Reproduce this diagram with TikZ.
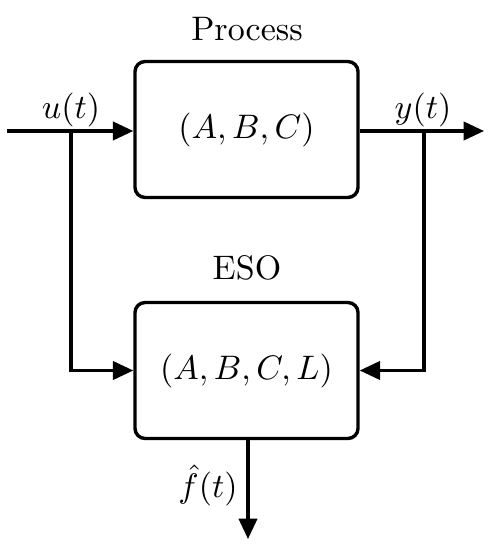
\documentclass[tikz,border=0pt]{standalone}
\usetikzlibrary{arrows.meta}
\begin{document}
\begin{tikzpicture}[x=0.2941pt,y=-0.2941pt,
  blk/.style={draw,line width=1pt,rounded corners=3pt,minimum width=65.6pt,minimum height=40pt,inner sep=0pt},
  conn/.style={line width=0.9pt},
  arr/.style={conn,-{Triangle[length=6pt,width=5.4pt]}},
  lbl/.style={inner sep=0pt}]
\useasboundingbox (0,0) rectangle (490,550);
\node[blk] (proc) at (246.5,129.5) {$(A,B,C)$};
\node[blk] (eso) at (246.5,370.5) {$(A,B,C,L)$};
\node[lbl] (plabel) at (247,29) {Process};
\node[lbl] (elabel) at (247,268) {ESO};
\coordinate (in) at (7,131);
\coordinate (ub) at (71,131);
\coordinate (yb) at (424,131);
\coordinate (out) at (484,131);
\coordinate (fout) at (248,539);
\draw[arr] (in) -- (in -| proc.west);
\draw[arr] (ub) |- (eso.west);
\draw[arr] (out -| proc.east) -- (out);
\draw[arr] (yb) |- (eso.east);
\draw[arr] (fout |- eso.south) -- (fout);
\node[lbl] (ulabel) at (71,110) {$u(t)$};
\node[lbl] (ylabel) at (423,110) {$y(t)$};
\node[lbl] (flabel) at (208,485) {$\hat f(t)$};
\end{tikzpicture}
\end{document}
